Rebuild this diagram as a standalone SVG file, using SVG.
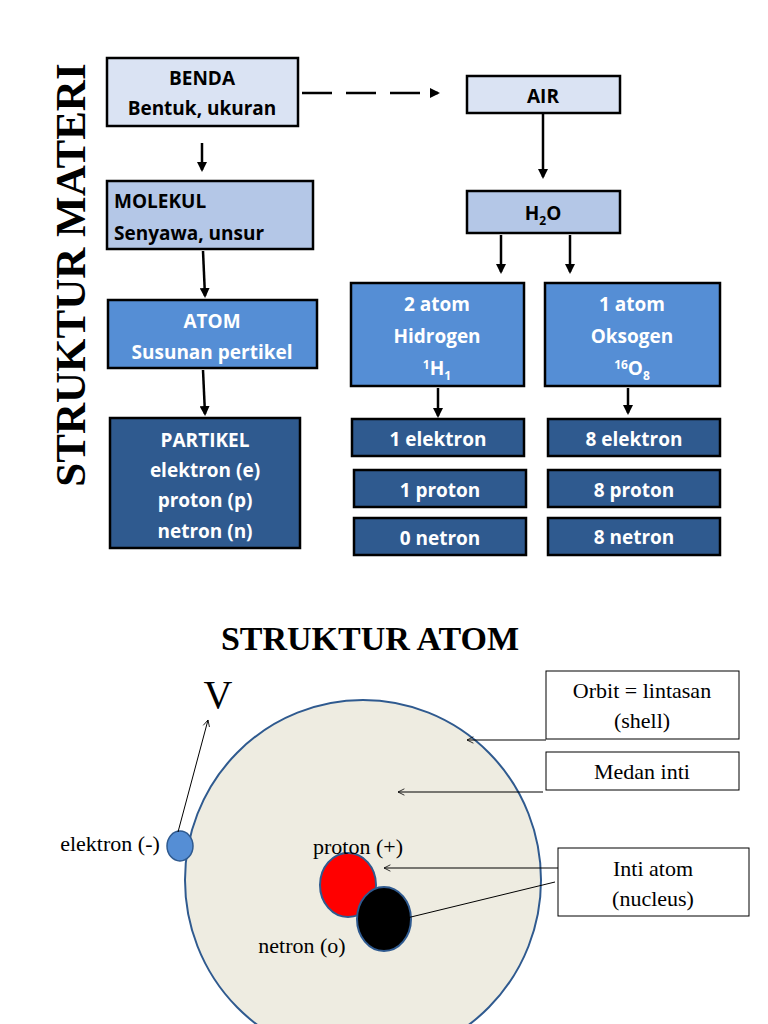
<svg xmlns="http://www.w3.org/2000/svg" width="768" height="1024" viewBox="0 0 768 1024">
<defs>
<marker id="ah" viewBox="0 0 10 10" refX="8" refY="5" markerWidth="4" markerHeight="4" orient="auto"><path d="M0,0L10,5L0,10z" fill="#000"/></marker>
<marker id="oa" viewBox="0 0 10 10" refX="9" refY="5" markerWidth="8" markerHeight="8" orient="auto"><path d="M1,1L9,5L1,9" fill="none" stroke="#000" stroke-width="1"/></marker>
</defs>
<style>
.b{stroke:#000;stroke-width:2.5}
.l1{fill:#dae3f3}.l2{fill:#b4c7e7}.m{fill:#558ed5}.d{fill:#2f5a8f}
.t{font-family:"Open Sans","Liberation Sans",sans-serif;font-weight:bold;font-size:19px;text-anchor:middle}
.st{text-anchor:start}
.w{fill:#fff}
.s{font-family:"Liberation Serif",serif;font-size:22px;text-anchor:middle}
.c{stroke:#000;stroke-width:2.5;fill:none;marker-end:url(#ah)}
.th{stroke:#000;stroke-width:1;fill:none;marker-end:url(#oa)}
</style>
<rect width="768" height="1024" fill="#fff"/>
<text transform="translate(85,275) rotate(-90)" font-family="Liberation Serif,serif" font-weight="bold" font-size="43" text-anchor="middle">STRUKTUR  MATERI</text>
<g id="benda"><rect class="b l1" x="107" y="58" width="191" height="68"/><text class="t" x="202" y="85">BENDA</text><text class="t" x="202" y="115">Bentuk, ukuran</text></g>
<g id="air"><rect class="b l1" x="467" y="76" width="153" height="37"/><text class="t" x="543" y="103">AIR</text></g>
<g id="molekul"><rect class="b l2" x="107" y="181" width="206" height="68"/><text class="t st" x="114" y="208">MOLEKUL</text><text class="t st" x="114" y="240">Senyawa, unsur</text></g>
<g id="h2o"><rect class="b l2" x="467" y="191" width="153" height="42"/><text class="t" x="543" y="220">H<tspan font-size="12" dy="5">2</tspan><tspan dy="-5">O</tspan></text></g>
<g id="atom"><rect class="b m" x="108" y="300" width="209" height="68"/><text class="t w" x="212" y="328">ATOM</text><text class="t w" x="212" y="359">Susunan pertikel</text></g>
<g id="hidrogen"><rect class="b m" x="351" y="283" width="173" height="103"/><text class="t w" x="437" y="311">2 atom</text><text class="t w" x="437" y="343">Hidrogen</text><text class="t w" x="437" y="375"><tspan font-size="12" dy="-6">1</tspan><tspan dy="6">H</tspan><tspan font-size="12" dy="5">1</tspan></text></g>
<g id="oksigen"><rect class="b m" x="545" y="283" width="175" height="103"/><text class="t w" x="632" y="311">1 atom</text><text class="t w" x="632" y="343">Oksogen</text><text class="t w" x="632" y="375"><tspan font-size="12" dy="-6">16</tspan><tspan dy="6">O</tspan><tspan font-size="12" dy="5">8</tspan></text></g>
<g id="partikel"><rect class="b d" x="110" y="418" width="190" height="130"/><text class="t w" x="205" y="447">PARTIKEL</text><text class="t w" x="205" y="477">elektron (e)</text><text class="t w" x="205" y="507">proton (p)</text><text class="t w" x="205" y="538">netron (n)</text></g>
<g id="h1"><rect class="b d" x="352" y="419" width="172" height="37"/><text class="t w" x="438" y="446">1 elektron</text></g>
<g id="h2"><rect class="b d" x="354" y="470" width="172" height="37"/><text class="t w" x="440" y="497">1 proton</text></g>
<g id="h3"><rect class="b d" x="354" y="518" width="172" height="37"/><text class="t w" x="440" y="545">0 netron</text></g>
<g id="o1"><rect class="b d" x="548" y="419" width="172" height="37"/><text class="t w" x="634" y="446">8 elektron</text></g>
<g id="o2"><rect class="b d" x="548" y="470" width="172" height="37"/><text class="t w" x="634" y="497">8 proton</text></g>
<g id="o3"><rect class="b d" x="548" y="518" width="172" height="37"/><text class="t w" x="634" y="544">8 netron</text></g>
<g id="connectors">
<path class="c" d="M302,93H438" stroke-width="3.5" stroke-dasharray="30,14"/>
<path class="c" d="M202,143V170"/>
<path class="c" d="M543,113V177"/>
<path class="c" d="M203,251L205,296"/>
<path class="c" d="M501,235V272"/>
<path class="c" d="M570,235V272"/>
<path class="c" d="M203,370L205,414"/>
<path class="c" d="M438,388V416"/>
<path class="c" d="M628,388V413"/>
</g>
<text x="370" y="650" font-family="Liberation Serif,serif" font-weight="bold" font-size="34" text-anchor="middle">STRUKTUR ATOM</text>
<g id="atomdiagram">
<ellipse cx="363" cy="880" rx="178" ry="180" fill="#eeece1" stroke="#2f5a8f" stroke-width="2"/>
<ellipse cx="348" cy="885" rx="28" ry="32" fill="#f00" stroke="#2f5a8f" stroke-width="2"/>
<ellipse cx="384" cy="919" rx="27" ry="32" fill="#000" stroke="#2f5a8f" stroke-width="2"/>
<ellipse cx="180" cy="846" rx="13" ry="15" fill="#558ed5" stroke="#2f5a8f" stroke-width="1.5"/>
<text x="218" y="708" font-family="Liberation Serif,serif" font-size="40" text-anchor="middle">V</text>
<text class="s" x="110" y="851">elektron (-)</text>
<text class="s" x="358" y="854">proton (+)</text>
<text class="s" x="302" y="953">netron (o)</text>
</g>
<g id="orbit"><rect x="546" y="671" width="193" height="68" fill="#fff" stroke="#000"/><text class="s" x="642" y="698">Orbit = lintasan</text><text class="s" x="642" y="728">(shell)</text></g>
<g id="medan"><rect x="546" y="752" width="193" height="38" fill="#fff" stroke="#000"/><text class="s" x="642" y="779">Medan inti</text></g>
<g id="inti"><rect x="558" y="848" width="191" height="68" fill="#fff" stroke="#000"/><text class="s" x="653" y="876">Inti atom</text><text class="s" x="653" y="906">(nucleus)</text></g>
<g id="connectors2">
<path class="th" d="M546,740H467"/>
<path class="th" d="M543,792H398"/>
<path class="th" d="M558,868H384"/>
<path class="th" d="M555,882L378,925"/>
<path class="th" d="M178,832L208,720"/>
</g>
</svg>
